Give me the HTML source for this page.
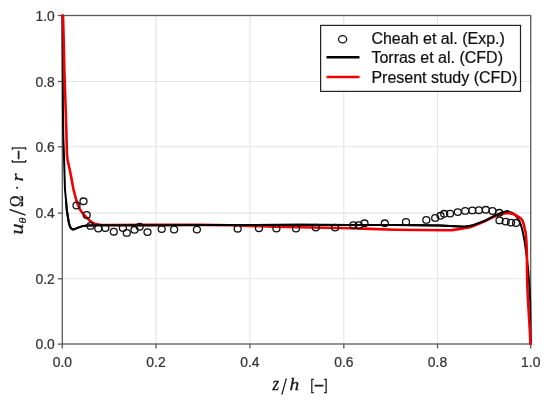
<!DOCTYPE html>
<html><head><meta charset="utf-8"><style>
html,body{margin:0;padding:0;background:#fff;}
body{width:550px;height:403px;overflow:hidden;}
svg{display:block;}
.tk text{font-family:"Liberation Sans",Arial,sans-serif;font-size:14.3px;fill:#333;stroke:#333;stroke-width:0.25px;}
.lg text{font-family:"Liberation Sans",Arial,sans-serif;font-size:16px;fill:#111;stroke:#111;stroke-width:0.22px;}
.mx{font-family:"Liberation Serif","DejaVu Serif",serif;fill:#1a1a1a;stroke:#1a1a1a;stroke-width:0.25px;}
</style></head><body>
<svg width="550" height="403" viewBox="0 0 550 403">
<rect width="550" height="403" fill="#fff"/>
<g stroke="#e4e4e4" stroke-width="1.1" fill="none">
<line x1="156.0" y1="15.5" x2="156.0" y2="344.0"/>
<line x1="62.3" y1="278.8" x2="530.7" y2="278.8"/>
<line x1="249.9" y1="15.5" x2="249.9" y2="344.0"/>
<line x1="62.3" y1="213.1" x2="530.7" y2="213.1"/>
<line x1="343.8" y1="15.5" x2="343.8" y2="344.0"/>
<line x1="62.3" y1="146.8" x2="530.7" y2="146.8"/>
<line x1="437.5" y1="15.5" x2="437.5" y2="344.0"/>
<line x1="62.3" y1="81.5" x2="530.7" y2="81.5"/>
</g>
<g stroke="#5a5a5a" stroke-width="1.3" fill="none">
<rect x="62.3" y="15.5" width="468.4" height="328.5"/>
<line x1="62.3" y1="344.0" x2="62.3" y2="348.5"/>
<line x1="57.8" y1="344.1" x2="62.3" y2="344.1"/>
<line x1="156.0" y1="344.0" x2="156.0" y2="348.5"/>
<line x1="57.8" y1="278.8" x2="62.3" y2="278.8"/>
<line x1="249.9" y1="344.0" x2="249.9" y2="348.5"/>
<line x1="57.8" y1="213.1" x2="62.3" y2="213.1"/>
<line x1="343.8" y1="344.0" x2="343.8" y2="348.5"/>
<line x1="57.8" y1="146.8" x2="62.3" y2="146.8"/>
<line x1="437.5" y1="344.0" x2="437.5" y2="348.5"/>
<line x1="57.8" y1="81.5" x2="62.3" y2="81.5"/>
<line x1="530.7" y1="344.0" x2="530.7" y2="348.5"/>
<line x1="57.8" y1="15.5" x2="62.3" y2="15.5"/>
</g>
<g fill="none" stroke-linejoin="round" stroke-linecap="round">
<polyline points="62.4,15.5 62.5,30.0 62.6,45.0 62.7,65.0 62.8,80.0 62.9,105.0 63.1,125.0 63.4,140.0 63.8,150.0 64.4,170.0 65.0,190.0 66.0,200.0 66.8,210.0 67.8,216.5 68.8,222.5 70.0,226.6 71.3,228.6 72.8,229.4 75.0,228.9 78.1,227.6 83.3,225.9 87.8,225.4 95.5,225.3 150.0,225.2 200.0,225.1 250.0,224.9 300.0,224.7 350.0,224.9 395.0,225.0 420.0,225.2 440.0,225.5 455.0,226.2 465.0,226.7 472.0,225.6 480.0,222.6 485.0,220.8 490.0,218.2 495.0,215.6 502.4,212.4 507.3,211.1 513.1,213.2 516.7,216.8 519.8,222.0 521.6,227.2 522.6,231.0 524.4,240.0 525.9,250.0 526.9,258.0 528.2,270.0 529.3,285.0 530.2,300.0 530.5,320.0 530.7,344.0" stroke="#000" stroke-width="2"/>
<polyline points="63.0,15.5 63.4,30.0 63.9,48.0 64.3,70.0 65.0,90.0 65.7,110.0 66.6,140.0 66.8,150.0 67.0,155.0 67.6,160.0 68.9,166.0 70.0,171.0 71.2,177.0 72.3,183.0 73.4,189.0 74.9,195.0 76.4,200.5 78.4,206.0 80.2,209.8 82.6,213.2 85.5,216.3 89.7,220.6 92.5,222.7 95.5,224.1 100.0,224.8 110.0,225.0 150.0,224.9 200.0,224.9 230.0,225.2 250.0,225.9 275.0,226.8 300.0,227.3 325.0,227.8 350.0,228.3 370.0,228.9 395.0,229.7 420.0,230.0 447.0,230.3 452.0,230.1 460.0,229.0 470.0,227.2 480.0,223.4 485.0,221.1 492.5,217.3 497.0,215.6 504.1,213.4 508.6,213.0 514.9,214.6 520.2,217.9 522.5,220.6 523.8,224.5 524.8,229.0 525.6,232.0 526.3,240.0 526.8,250.0 527.0,260.0 527.0,270.0 527.3,285.0 528.0,300.0 528.9,315.0 529.8,330.0 530.5,344.0" stroke="#f00000" stroke-width="2.6"/>
<polyline points="66.0,200.0 66.8,210.0 67.8,216.5 68.8,222.5 70.0,226.6 71.3,228.6 72.8,229.4 75.0,228.9 78.1,227.6 83.3,225.9 87.8,225.4 95.5,225.3 150.0,225.2 200.0,225.1 250.0,224.9 300.0,224.7 350.0,224.9 395.0,225.0 420.0,225.2 440.0,225.5 455.0,226.2 465.0,226.7 472.0,225.6 480.0,222.6 485.0,220.8 490.0,218.2 495.0,215.6 502.4,212.4 507.3,211.1" stroke="#000" stroke-width="2"/>
</g>
<g fill="none" stroke="#111" stroke-width="1.3">
<ellipse cx="76.5" cy="205.5" rx="3.5" ry="3.3"/>
<ellipse cx="83.5" cy="201.3" rx="3.5" ry="3.3"/>
<ellipse cx="86.7" cy="215.0" rx="3.5" ry="3.3"/>
<ellipse cx="90.5" cy="225.9" rx="3.5" ry="3.3"/>
<ellipse cx="98.3" cy="228.5" rx="3.5" ry="3.3"/>
<ellipse cx="105.3" cy="228.0" rx="3.5" ry="3.3"/>
<ellipse cx="113.8" cy="231.7" rx="3.5" ry="3.3"/>
<ellipse cx="122.9" cy="228.0" rx="3.5" ry="3.3"/>
<ellipse cx="126.8" cy="232.9" rx="3.5" ry="3.3"/>
<ellipse cx="134.5" cy="229.8" rx="3.5" ry="3.3"/>
<ellipse cx="139.7" cy="226.7" rx="3.5" ry="3.3"/>
<ellipse cx="147.5" cy="232.1" rx="3.5" ry="3.3"/>
<ellipse cx="161.7" cy="229.1" rx="3.5" ry="3.3"/>
<ellipse cx="174.1" cy="229.5" rx="3.5" ry="3.3"/>
<ellipse cx="196.9" cy="229.6" rx="3.5" ry="3.3"/>
<ellipse cx="237.7" cy="228.7" rx="3.5" ry="3.3"/>
<ellipse cx="259.0" cy="228.2" rx="3.5" ry="3.3"/>
<ellipse cx="276.4" cy="228.5" rx="3.5" ry="3.3"/>
<ellipse cx="296.0" cy="228.5" rx="3.5" ry="3.3"/>
<ellipse cx="315.8" cy="227.6" rx="3.5" ry="3.3"/>
<ellipse cx="335.1" cy="227.6" rx="3.5" ry="3.3"/>
<ellipse cx="353.4" cy="225.1" rx="3.5" ry="3.3"/>
<ellipse cx="358.8" cy="225.2" rx="3.5" ry="3.3"/>
<ellipse cx="364.5" cy="223.3" rx="3.5" ry="3.3"/>
<ellipse cx="384.8" cy="223.3" rx="3.5" ry="3.3"/>
<ellipse cx="406.0" cy="222.0" rx="3.5" ry="3.3"/>
<ellipse cx="426.3" cy="219.9" rx="3.5" ry="3.3"/>
<ellipse cx="435.2" cy="217.9" rx="3.5" ry="3.3"/>
<ellipse cx="440.5" cy="215.8" rx="3.5" ry="3.3"/>
<ellipse cx="444.2" cy="213.8" rx="3.5" ry="3.3"/>
<ellipse cx="450.1" cy="213.6" rx="3.5" ry="3.3"/>
<ellipse cx="457.8" cy="212.1" rx="3.5" ry="3.3"/>
<ellipse cx="465.2" cy="210.9" rx="3.5" ry="3.3"/>
<ellipse cx="472.3" cy="210.4" rx="3.5" ry="3.3"/>
<ellipse cx="478.9" cy="210.2" rx="3.5" ry="3.3"/>
<ellipse cx="485.8" cy="209.8" rx="3.5" ry="3.3"/>
<ellipse cx="492.5" cy="211.0" rx="3.5" ry="3.3"/>
<ellipse cx="499.2" cy="212.8" rx="3.5" ry="3.3"/>
<ellipse cx="499.5" cy="220.4" rx="3.5" ry="3.3"/>
<ellipse cx="505.7" cy="221.6" rx="3.5" ry="3.3"/>
<ellipse cx="511.0" cy="222.6" rx="3.5" ry="3.3"/>
<ellipse cx="516.1" cy="223.0" rx="3.5" ry="3.3"/>
</g>

<g class="tk">
<text transform="translate(62.3,366.5) scale(0.97,1)" text-anchor="middle">0.0</text>
<text transform="translate(54.8,349.2) scale(0.97,1)" text-anchor="end">0.0</text>
<text transform="translate(156.0,366.5) scale(0.97,1)" text-anchor="middle">0.2</text>
<text transform="translate(54.8,283.9) scale(0.97,1)" text-anchor="end">0.2</text>
<text transform="translate(249.9,366.5) scale(0.97,1)" text-anchor="middle">0.4</text>
<text transform="translate(54.8,218.2) scale(0.97,1)" text-anchor="end">0.4</text>
<text transform="translate(343.8,366.5) scale(0.97,1)" text-anchor="middle">0.6</text>
<text transform="translate(54.8,151.9) scale(0.97,1)" text-anchor="end">0.6</text>
<text transform="translate(437.5,366.5) scale(0.97,1)" text-anchor="middle">0.8</text>
<text transform="translate(54.8,86.6) scale(0.97,1)" text-anchor="end">0.8</text>
<text transform="translate(530.7,366.5) scale(0.97,1)" text-anchor="middle">1.0</text>
<text transform="translate(54.8,20.6) scale(0.97,1)" text-anchor="end">1.0</text>
</g>
<g class="lg">
<rect x="320.6" y="25.4" width="199.9" height="66" fill="#fff" stroke="#222" stroke-width="1.2"/>
<ellipse cx="342.6" cy="39.3" rx="4.1" ry="3.6" fill="none" stroke="#111" stroke-width="1.3"/>
<line x1="326.5" y1="57.2" x2="359.5" y2="57.2" stroke="#000" stroke-width="2.4"/>
<line x1="326.5" y1="77.0" x2="359.5" y2="77.0" stroke="#f00000" stroke-width="2.4"/>
<text transform="translate(371.4,43.8) scale(1.0,1)">Cheah et al. (Exp.)</text>
<text transform="translate(371.4,63.2) scale(1.0,1)">Torras et al. (CFD)</text>
<text transform="translate(371.4,83.2) scale(1.0,1)">Present study (CFD)</text>
</g>
<g class="mx">
<text font-size="16.0" font-style="italic" transform="matrix(1.0653 0 0 1.1166 272.59 390.30)">z</text>
<text stroke="#222" stroke-width="0.7" font-size="16.0" font-style="italic" transform="matrix(0.7502 0 0 1.4575 282.25 393.77)">/</text>
<text font-size="16.0" font-style="italic" transform="matrix(1.2134 0 0 1.0899 289.60 390.30)">h</text>
<text stroke-width="0.55" font-size="16.0" font-style="normal" transform="matrix(0.6737 0 0 1.0346 310.60 390.99)">[</text>
<text stroke-width="0.5" font-size="16.0" font-style="normal" transform="matrix(1.0099 0 0 1.2549 314.91 391.18)">–</text>
<text stroke-width="0.55" font-size="16.0" font-style="normal" transform="matrix(0.7018 0 0 1.0346 323.69 390.99)">]</text>
</g>
<g class="mx">
<text font-size="16.0" font-style="italic" transform="matrix(0 -1.4189 1.1419 0 22.99 234.63)">u</text>
<text stroke="#222" stroke-width="0.45" font-size="16.0" font-style="italic" transform="matrix(0 -0.7608 0.6083 0 25.80 223.49)">θ</text>
<text stroke="#222" stroke-width="0.7" font-size="16.0" font-style="italic" transform="matrix(0 -0.9221 1.4201 0 25.48 214.62)">/</text>
<text font-size="16.0" font-style="normal" transform="matrix(0 -0.9673 1.1327 0 22.60 207.10)">Ω</text>
<text font-size="16.0" font-style="normal" transform="matrix(0 -0.9521 0.9521 0 22.44 190.34)">·</text>
<text font-size="16.0" font-style="italic" transform="matrix(0 -1.2978 1.0479 0 22.60 181.44)">r</text>
<text stroke-width="0.55" font-size="16.0" font-style="normal" transform="matrix(0 -0.6175 1.0950 0 23.76 163.03)">[</text>
<text stroke-width="0.5" font-size="16.0" font-style="normal" transform="matrix(0 -0.9734 1.2549 0 23.78 158.99)">–</text>
<text stroke-width="0.55" font-size="16.0" font-style="normal" transform="matrix(0 -0.6175 1.0950 0 23.76 149.96)">]</text>
</g>
</svg>
</body></html>
